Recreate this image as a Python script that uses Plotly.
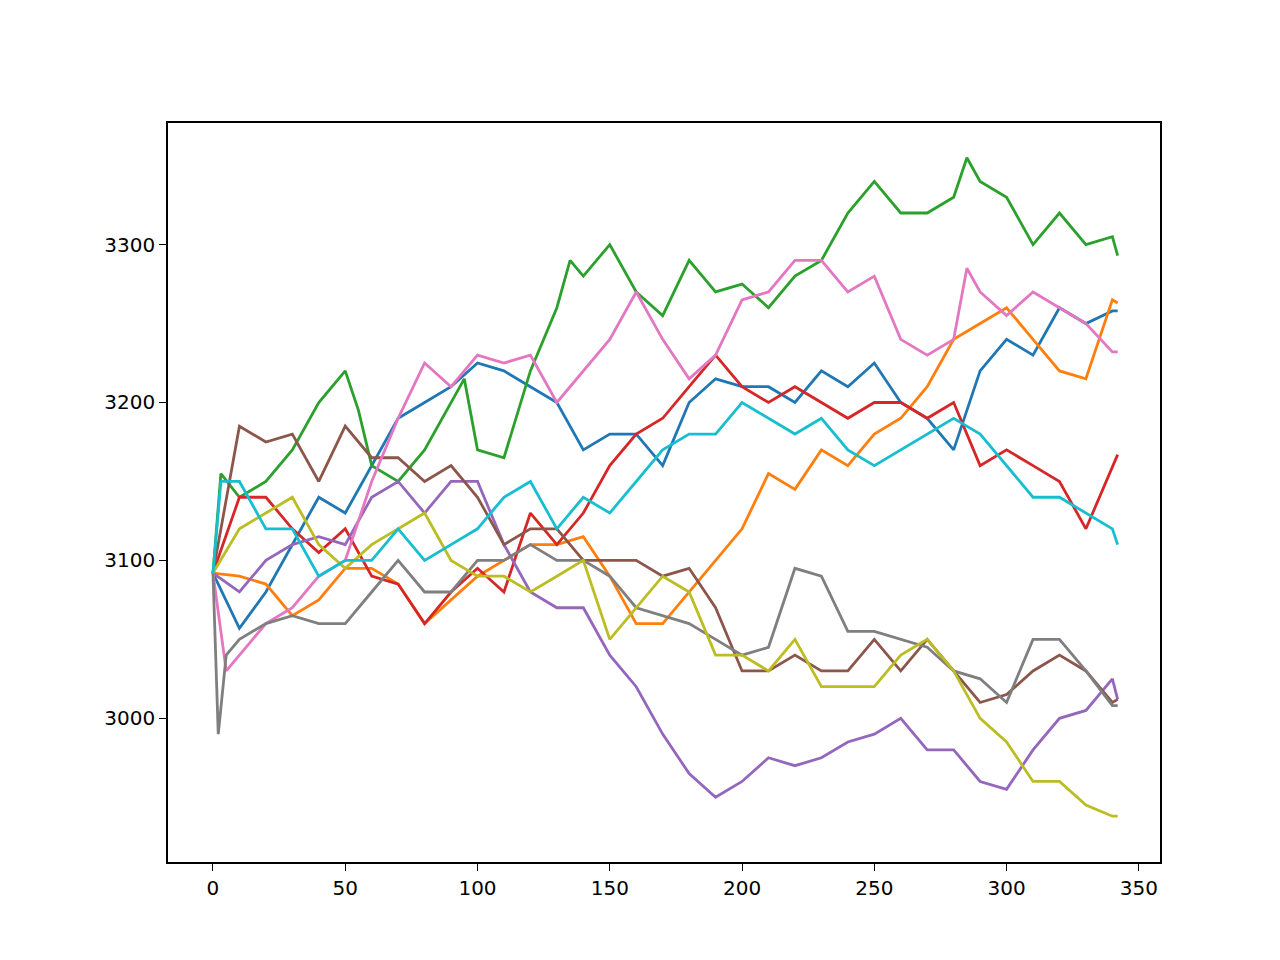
import plotly.graph_objects as go

x_std = [0, 10, 20, 30, 40, 50, 60, 70, 80, 90, 100, 110, 120, 130, 140, 150, 160, 170,
         180, 190, 200, 210, 220, 230, 240, 250, 260, 270, 280, 290, 300, 310, 320, 330, 340, 342]

blue = [3092, 3057, 3080, 3110, 3140, 3130, 3160, 3190, 3200, 3210, 3225, 3220, 3210, 3200, 3170, 3180,
        3180, 3160, 3200, 3215, 3210, 3210, 3200, 3220, 3210, 3225, 3200, 3190, 3170, 3220, 3240, 3230,
        3260, 3250, 3258, 3258]
orange = [3092, 3090, 3085, 3065, 3075, 3095, 3095, 3085, 3060, 3075, 3090, 3100, 3110, 3110, 3115, 3090,
          3060, 3060, 3080, 3100, 3120, 3155, 3145, 3170, 3160, 3180, 3190, 3210, 3240, 3250, 3260, 3240,
          3220, 3215, 3265, 3263]
green_x = [0, 3, 10, 20, 30, 40, 50, 55, 60, 70, 80, 90, 95, 100, 110, 120, 130, 135, 140, 150, 160, 170,
           180, 190, 200, 210, 220, 230, 240, 250, 260, 270, 280, 285, 290, 300, 310, 320, 330, 340, 342]
green = [3092, 3155, 3140, 3150, 3170, 3200, 3220, 3195, 3160, 3150, 3170, 3200, 3215, 3170, 3165, 3220,
         3260, 3290, 3280, 3300, 3270, 3255, 3290, 3270, 3275, 3260, 3280, 3290, 3320, 3340, 3320, 3320,
         3330, 3355, 3340, 3330, 3300, 3320, 3300, 3305, 3293]
red = [3092, 3140, 3140, 3120, 3105, 3120, 3090, 3085, 3060, 3080, 3095, 3080, 3130, 3110, 3130, 3160,
       3180, 3190, 3210, 3230, 3210, 3200, 3210, 3200, 3190, 3200, 3200, 3190, 3200, 3160, 3170, 3160,
       3150, 3120, 3160, 3167]
purple = [3092, 3080, 3100, 3110, 3115, 3110, 3140, 3150, 3130, 3150, 3150, 3110, 3080, 3070, 3070, 3040,
          3020, 2990, 2965, 2950, 2960, 2975, 2970, 2975, 2985, 2990, 3000, 2980, 2980, 2960, 2955, 2980,
          3000, 3005, 3025, 3012]
brown = [3092, 3185, 3175, 3180, 3150, 3185, 3165, 3165, 3150, 3160, 3140, 3110, 3120, 3120, 3100, 3100,
         3100, 3090, 3095, 3070, 3030, 3030, 3040, 3030, 3030, 3050, 3030, 3050, 3030, 3010, 3015, 3030,
         3040, 3030, 3010, 3012]
pink_x = [0, 5, 10, 20, 30, 40, 50, 60, 70, 80, 90, 100, 110, 120, 130, 140, 150, 160, 170, 180, 190, 200,
          210, 220, 230, 240, 250, 260, 270, 280, 285, 290, 300, 310, 320, 330, 340, 342]
pink = [3092, 3030, 3040, 3060, 3070, 3090, 3100, 3150, 3190, 3225, 3210, 3230, 3225, 3230, 3200, 3220,
        3240, 3270, 3240, 3215, 3230, 3265, 3270, 3290, 3290, 3270, 3280, 3240, 3230, 3240, 3285, 3270,
        3255, 3270, 3260, 3250, 3232, 3232]
gray_x = [0, 2, 5, 10, 20, 30, 40, 50, 60, 70, 80, 90, 100, 110, 120, 130, 140, 150, 160, 170, 180, 190,
          200, 210, 220, 230, 240, 250, 260, 270, 280, 290, 300, 310, 320, 330, 340, 342]
gray = [3092, 2990, 3040, 3050, 3060, 3065, 3060, 3060, 3080, 3100, 3080, 3080, 3100, 3100, 3110, 3100,
        3100, 3090, 3070, 3065, 3060, 3050, 3040, 3045, 3095, 3090, 3055, 3055, 3050, 3045, 3030, 3025,
        3010, 3050, 3050, 3030, 3008, 3008]
olive = [3092, 3120, 3130, 3140, 3110, 3095, 3110, 3120, 3130, 3100, 3090, 3090, 3080, 3090, 3100, 3050,
         3070, 3090, 3080, 3040, 3040, 3030, 3050, 3020, 3020, 3020, 3040, 3050, 3030, 3000, 2985, 2960,
         2960, 2945, 2938, 2938]
cyan_x = [0, 3, 10, 20, 30, 40, 50, 60, 70, 80, 90, 100, 110, 120, 130, 140, 150, 160, 170, 180, 190, 200,
          210, 220, 230, 240, 250, 260, 270, 280, 290, 300, 310, 320, 330, 340, 342]
cyan = [3092, 3150, 3150, 3120, 3120, 3090, 3100, 3100, 3120, 3100, 3110, 3120, 3140, 3150, 3120, 3140,
        3130, 3150, 3170, 3180, 3180, 3200, 3190, 3180, 3190, 3170, 3160, 3170, 3180, 3190, 3180, 3160,
        3140, 3140, 3130, 3120, 3110]

series = [
    (x_std, blue, "#1f77b4"),
    (x_std, orange, "#ff7f0e"),
    (green_x, green, "#2ca02c"),
    (x_std, red, "#d62728"),
    (x_std, purple, "#9467bd"),
    (x_std, brown, "#8c564b"),
    (pink_x, pink, "#e377c2"),
    (gray_x, gray, "#7f7f7f"),
    (x_std, olive, "#bcbd22"),
    (cyan_x, cyan, "#17becf"),
]

fig = go.Figure()
for xs, ys, color in series:
    fig.add_trace(go.Scatter(x=xs, y=ys, mode="lines", line=dict(color=color, width=2.8)))

axis_style = dict(showgrid=False, zeroline=False, showline=True, linecolor="black", linewidth=1.5,
                  mirror=True, ticks="outside", ticklen=7, tickcolor="black", automargin=False,
                  tickfont=dict(family="DejaVu Sans", size=20, color="black"))

fig.update_layout(
    width=1280, height=960,
    margin=dict(l=160, r=128, t=115, b=106),
    plot_bgcolor="white", paper_bgcolor="white",
    showlegend=False,
    xaxis=dict(range=[-17, 358], tickvals=[0, 50, 100, 150, 200, 250, 300, 350], **axis_style),
    yaxis=dict(range=[2909, 3377], tickvals=[3000, 3100, 3200, 3300], **axis_style),
)

fig.write_html("out.html")
